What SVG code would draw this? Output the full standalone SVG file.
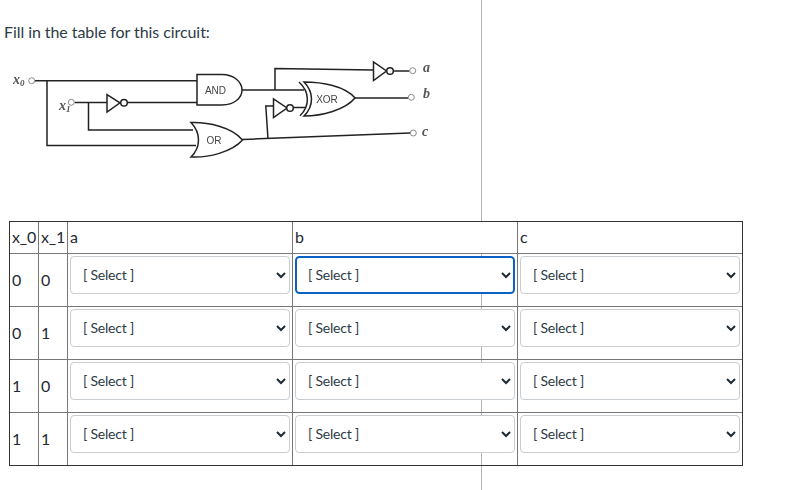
<svg xmlns="http://www.w3.org/2000/svg" width="795" height="490" viewBox="0 0 795 490">
<style>
text{font-family:"Lato","Liberation Sans",sans-serif;fill:#2d3b45}
.t{font-size:16px;letter-spacing:-0.07px}
.cell{font-size:16px;fill:#1f2a33;letter-spacing:-0.2px}
.s{font-size:14px;letter-spacing:-0.2px}
.g{font-family:"Liberation Sans",Arial,sans-serif;font-size:10px;fill:#444;text-anchor:middle}
.v{font-family:"Liberation Serif",serif;font-style:italic;fill:#555;font-size:14px;font-weight:bold}
.sub{font-size:9px}
.w{fill:none;stroke:#222;stroke-width:1.5}
.gate{fill:#fff;stroke:#222;stroke-width:1.5}
.pin{fill:#fff;stroke:#888;stroke-width:1}
.sel{fill:#fff;stroke:#c7cdd1;stroke-width:1}
.foc{fill:#fff;stroke:#0b62c4;stroke-width:2}
.chev{fill:none;stroke:#1f2a33;stroke-width:2}
.grid{fill:none;stroke:#777;stroke-width:1}
</style>
<defs>
<filter id="soft" x="-5%" y="-5%" width="110%" height="110%"><feGaussianBlur stdDeviation="0.4"/></filter>
<g id="sel"><rect class="sel" x="0.5" y="0.5" width="219" height="37" rx="3.5"/><text class="s" x="13" y="24">[ Select ]</text><path class="chev" d="M207 17l4 4 4-4"/></g>
</defs>
<rect width="795" height="490" fill="#fff"/>
<path d="M481.500 0V490" stroke="#b5b5b5" stroke-width="1" fill="none"/>
<text class="t" x="4" y="37.500">Fill in the table for this circuit:</text>

<g id="circuit" filter="url(#soft)">
<g id="connectors">
<path class="w" d="M35 80.700H197"/>
<path class="w" d="M47 81V145.500H196"/>
<path class="w" d="M74.500 102.500H107"/>
<path class="w" d="M88.500 102.500V130H193"/>
<path class="w" d="M127.500 102.500H197"/>
<path class="w" d="M242 90H304"/>
<path class="w" d="M275 90V68.500L373 70"/>
<path class="w" d="M393.500 71H409.500"/>
<path class="w" d="M293.500 107.500H305"/>
<path class="w" d="M355 98H408"/>
<path class="w" d="M273 106H265.800L268 139"/>
<path class="w" d="M242 139.500L410 133"/>
</g>
<g id="x0"><circle class="pin" cx="31.700" cy="80.700" r="3"/><text class="v" x="13" y="84">x<tspan class="sub" dy="2">0</tspan></text></g>
<g id="x1"><circle class="pin" cx="71.300" cy="102.300" r="3"/><text class="v" x="59" y="110">x<tspan class="sub" dy="2">1</tspan></text></g>
<g id="and"><path class="gate" d="M197 74.500H222C234 74.500 242 82 242 90C242 98 234 105 222 105H197Z"/><text class="g" x="215.500" y="93.500">AND</text></g>
<g id="or"><path class="gate" d="M191 122.500C208 122 232 127 242.500 140C232 152 208 158 191 157C201 147 201 133 191 122.500Z"/><text class="g" x="214" y="143.500">OR</text></g>
<g id="xor"><path class="w" d="M299 82C310 92 310 106 300 115.700"/><path class="gate" d="M304 82C322 82 345 86 355 98C345 110 322 116 304 116C314 106 314 92 304 82Z"/><text class="g" x="327" y="102.500">XOR</text></g>
<g id="not1"><path class="gate" d="M107 94.500V112L120 102.800Z"/><circle class="gate" cx="124" cy="102.800" r="3.300"/></g>
<g id="not2"><path class="gate" d="M273.500 99V117.500L287 108Z"/><circle class="gate" cx="290" cy="108" r="3.300"/></g>
<g id="not3"><path class="gate" d="M373.500 62V80.500L386.500 71Z"/><circle class="gate" cx="390" cy="71" r="3.300"/></g>
<g id="a"><circle class="pin" cx="412.700" cy="70.700" r="3"/><text class="v" x="423" y="72">a</text></g>
<g id="b"><circle class="pin" cx="411.300" cy="97.300" r="3"/><text class="v" x="423" y="98">b</text></g>
<g id="c"><circle class="pin" cx="413.300" cy="133" r="3"/><text class="v" x="422" y="136">c</text></g>
</g>

<g id="table">
<rect x="9.500" y="221.500" width="733" height="31.500" fill="#fff"/>
<path class="grid" d="M38.500 222V465M67.500 222V465M292.500 222V465M517.500 222V465M10 253.500H742M10 306.500H742M10 359.500H742M10 412.500H742"/>
<rect x="9.500" y="221.500" width="733" height="244" fill="none" stroke="#333" stroke-width="1"/>
<text class="cell" x="12" y="243">x_0</text><text class="cell" x="41" y="243">x_1</text><text class="cell" x="70" y="243">a</text><text class="cell" x="295" y="243">b</text><text class="cell" x="520" y="243">c</text>
<text class="cell" x="12" y="286">0</text><text class="cell" x="41" y="286">0</text>
<text class="cell" x="12" y="339">0</text><text class="cell" x="41" y="339">1</text>
<text class="cell" x="12" y="392">1</text><text class="cell" x="41" y="392">0</text>
<text class="cell" x="12" y="445">1</text><text class="cell" x="41" y="445">1</text>
<use href="#sel" x="70" y="256"/>
<g transform="translate(295 256)"><rect class="foc" x="1" y="1" width="218" height="36" rx="3.500"/><text class="s" x="13" y="24">[ Select ]</text><path class="chev" d="M207 17l4 4 4-4"/></g>
<use href="#sel" x="520" y="256"/>
<use href="#sel" x="70" y="309"/><use href="#sel" x="295" y="309"/><use href="#sel" x="520" y="309"/>
<use href="#sel" x="70" y="362"/><use href="#sel" x="295" y="362"/><use href="#sel" x="520" y="362"/>
<use href="#sel" x="70" y="415"/><use href="#sel" x="295" y="415"/><use href="#sel" x="520" y="415"/>
</g>
</svg>
